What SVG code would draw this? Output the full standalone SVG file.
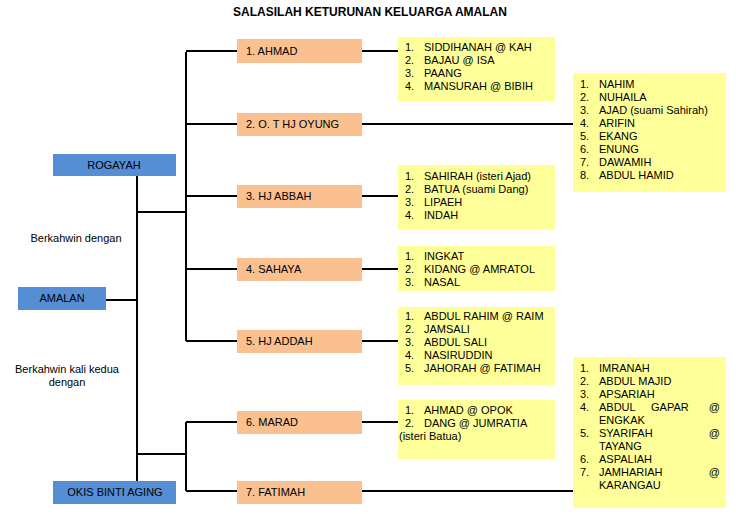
<svg xmlns="http://www.w3.org/2000/svg" width="736" height="514" viewBox="0 0 736 514">
<style>
text{font-family:"Liberation Sans",Arial,sans-serif;font-size:11px;fill:#000}
.b{fill:#558ED5}.o{fill:#FAC090}.y{fill:#FFFF99}
.c{text-anchor:middle}
#connectors path{stroke:#000;stroke-width:2;fill:none}
</style>
<rect width="736" height="514" fill="#fff"/>
<text x="370" y="16" class="c" style="font-weight:bold;font-size:12px">SALASILAH KETURUNAN KELUARGA AMALAN</text>
<g id="connectors">
<path d="M137 176V481M106 300H137M137 212H186M186 52V341M186 51H237M186 124H237M186 196H237M186 269H237M186 341H237M137 454H186M186 422V491M186 422H237M186 491H237M362 51H398M362 124H573M362 196H398M362 269H398M362 341H398M362 422H398M362 491H573"/>
</g>
<g id="rogayah"><rect class="b" x="53" y="154" width="123" height="22"/><text x="114" y="169" class="c">ROGAYAH</text></g>
<g id="amalan"><rect class="b" x="18" y="287" width="88" height="23"/><text x="62" y="302" class="c">AMALAN</text></g>
<g id="okis"><rect class="b" x="53" y="481" width="123" height="23"/><text x="115" y="496" class="c">OKIS BINTI AGING</text></g>
<g id="lbl1"><text x="76" y="242" class="c">Berkahwin dengan</text></g>
<g id="lbl2"><text x="67" y="373" class="c">Berkahwin kali kedua</text><text x="67" y="386" class="c">dengan</text></g>
<g id="ahmad"><rect class="o" x="237" y="39" width="125" height="24"/><text x="246" y="55">1.  AHMAD</text></g>
<g id="oyung"><rect class="o" x="237" y="113" width="125" height="23"/><text x="246" y="128">2.  O. T HJ OYUNG</text></g>
<g id="abbah"><rect class="o" x="237" y="185" width="125" height="23"/><text x="246" y="200">3.  HJ ABBAH</text></g>
<g id="sahaya"><rect class="o" x="237" y="258" width="125" height="23"/><text x="246" y="273">4.  SAHAYA</text></g>
<g id="addah"><rect class="o" x="237" y="330" width="125" height="23"/><text x="246" y="345">5.  HJ ADDAH</text></g>
<g id="marad"><rect class="o" x="237" y="411" width="125" height="23"/><text x="246" y="426">6.  MARAD</text></g>
<g id="fatimah"><rect class="o" x="237" y="481" width="125" height="23"/><text x="246" y="496">7.  FATIMAH</text></g>
<g id="c-ahmad"><rect class="y" x="398" y="37" width="157" height="64"/>
<text x="405" y="51">1.</text><text x="424" y="51">SIDDIHANAH @ KAH</text>
<text x="405" y="64">2.</text><text x="424" y="64">BAJAU @ ISA</text>
<text x="405" y="77">3.</text><text x="424" y="77">PAANG</text>
<text x="405" y="90">4.</text><text x="424" y="90">MANSURAH @ BIBIH</text></g>
<g id="c-oyung"><rect class="y" x="573" y="73" width="153" height="119"/>
<text x="580" y="88">1.</text><text x="599" y="88">NAHIM</text>
<text x="580" y="101">2.</text><text x="599" y="101">NUHAILA</text>
<text x="580" y="114">3.</text><text x="599" y="114">AJAD (suami Sahirah)</text>
<text x="580" y="127">4.</text><text x="599" y="127">ARIFIN</text>
<text x="580" y="140">5.</text><text x="599" y="140">EKANG</text>
<text x="580" y="153">6.</text><text x="599" y="153">ENUNG</text>
<text x="580" y="166">7.</text><text x="599" y="166">DAWAMIH</text>
<text x="580" y="179">8.</text><text x="599" y="179">ABDUL HAMID</text></g>
<g id="c-abbah"><rect class="y" x="398" y="165" width="157" height="65"/>
<text x="405" y="180">1.</text><text x="424" y="180">SAHIRAH (isteri Ajad)</text>
<text x="405" y="193">2.</text><text x="424" y="193">BATUA (suami Dang)</text>
<text x="405" y="206">3.</text><text x="424" y="206">LIPAEH</text>
<text x="405" y="219">4.</text><text x="424" y="219">INDAH</text></g>
<g id="c-sahaya"><rect class="y" x="398" y="246" width="157" height="45"/>
<text x="405" y="260">1.</text><text x="424" y="260">INGKAT</text>
<text x="405" y="273">2.</text><text x="424" y="273">KIDANG @ AMRATOL</text>
<text x="405" y="286">3.</text><text x="424" y="286">NASAL</text></g>
<g id="c-addah"><rect class="y" x="398" y="307" width="157" height="78"/>
<text x="405" y="320">1.</text><text x="424" y="320">ABDUL RAHIM @ RAIM</text>
<text x="405" y="333">2.</text><text x="424" y="333">JAMSALI</text>
<text x="405" y="346">3.</text><text x="424" y="346">ABDUL SALI</text>
<text x="405" y="359">4.</text><text x="424" y="359">NASIRUDDIN</text>
<text x="405" y="372">5.</text><text x="424" y="372">JAHORAH @ FATIMAH</text></g>
<g id="c-marad"><rect class="y" x="398" y="400" width="157" height="59"/>
<text x="405" y="414">1.</text><text x="424" y="414">AHMAD @ OPOK</text>
<text x="405" y="427">2.</text><text x="424" y="427">DANG @ JUMRATIA</text>
<text x="399" y="440">(isteri Batua)</text></g>
<g id="c-fatimah"><rect class="y" x="573" y="357" width="153" height="151"/>
<text x="580" y="372">1.</text><text x="599" y="372">IMRANAH</text>
<text x="580" y="385">2.</text><text x="599" y="385">ABDUL MAJID</text>
<text x="580" y="398">3.</text><text x="599" y="398">APSARIAH</text>
<text x="580" y="411">4.</text><text x="599" y="411">ABDUL</text><text x="651" y="411">GAPAR</text><text x="720" y="411" text-anchor="end">@</text>
<text x="599" y="424">ENGKAK</text>
<text x="580" y="437">5.</text><text x="599" y="437">SYARIFAH</text><text x="720" y="437" text-anchor="end">@</text>
<text x="599" y="450">TAYANG</text>
<text x="580" y="463">6.</text><text x="599" y="463">ASPALIAH</text>
<text x="580" y="476">7.</text><text x="599" y="476">JAMHARIAH</text><text x="720" y="476" text-anchor="end">@</text>
<text x="599" y="489">KARANGAU</text></g>
</svg>
